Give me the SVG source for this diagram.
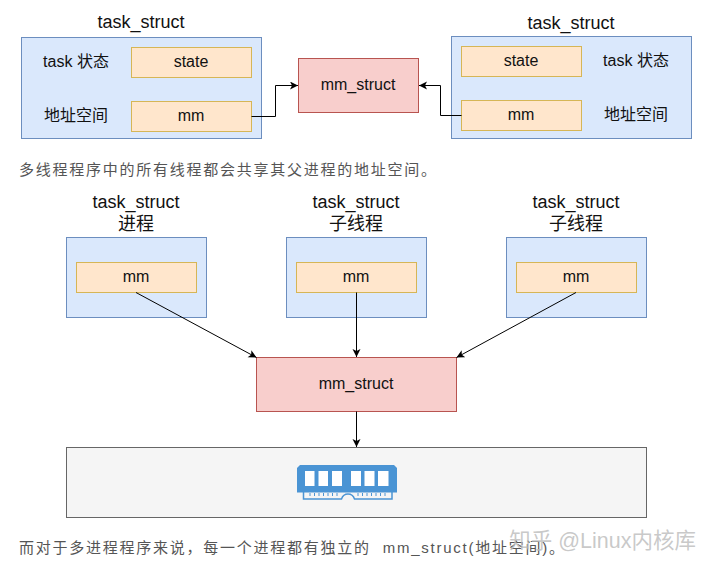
<svg xmlns="http://www.w3.org/2000/svg" width="714" height="570" viewBox="0 0 714 570">
<style>
text{font-family:"Liberation Sans","Noto Sans CJK SC",sans-serif;fill:#111;text-anchor:middle}
.t{font-size:18px}.l{font-size:16px}
.cap{font-size:15px;fill:#555;text-anchor:start;letter-spacing:1.75px}
.blue{fill:#dae8fc;stroke:#6c8ebf}.or{fill:#ffe6cc;stroke:#d6b656}.red{fill:#f8cecc;stroke:#b85450}
.gray{fill:#f5f5f5;stroke:#666}
.c{fill:none;stroke:#000;stroke-width:1}
</style>
<defs><marker id="a" markerUnits="userSpaceOnUse" markerWidth="10" markerHeight="10" refX="8" refY="4" orient="auto"><path d="M0 0L8 4L0 8L2 4Z" fill="#000"/></marker></defs>
<rect width="714" height="570" fill="#fff"/>
<g id="task-left">
<text class="t" x="141" y="28">task_struct</text>
<rect class="blue" x="21.500" y="37.500" width="240" height="101"/>
<text class="l" x="76" y="67">task 状态</text>
<text class="l" x="76" y="121">地址空间</text>
<rect class="or" x="131.500" y="47.500" width="120" height="30"/><text class="l" x="191" y="67">state</text>
<rect class="or" x="131.500" y="101.500" width="120" height="30"/><text class="l" x="191" y="121">mm</text>
</g>
<g id="task-right">
<text class="t" x="571" y="29">task_struct</text>
<rect class="blue" x="451.500" y="36.500" width="240" height="102"/>
<rect class="or" x="461.500" y="46.500" width="120" height="30"/><text class="l" x="521" y="66">state</text>
<rect class="or" x="461.500" y="100.500" width="120" height="30"/><text class="l" x="521" y="120">mm</text>
<text class="l" x="636" y="66">task 状态</text>
<text class="l" x="636" y="120">地址空间</text>
</g>
<g id="mm-top"><rect class="red" x="298.500" y="58.500" width="120" height="54"/><text class="l" x="358" y="90">mm_struct</text></g>
<text class="cap" x="19" y="175">多线程程序中的所有线程都会共享其父进程的地址空间。</text>
<g id="proc"><text class="t" x="136" y="208">task_struct</text><text class="t" x="136" y="230">进程</text>
<rect class="blue" x="66.500" y="237.500" width="140" height="80"/><rect class="or" x="76.500" y="262.500" width="120" height="30"/><text class="l" x="136" y="282">mm</text></g>
<g id="thread1"><text class="t" x="356" y="208">task_struct</text><text class="t" x="356" y="230">子线程</text>
<rect class="blue" x="286.500" y="237.500" width="140" height="80"/><rect class="or" x="296.500" y="262.500" width="120" height="30"/><text class="l" x="356" y="282">mm</text></g>
<g id="thread2"><text class="t" x="576" y="208">task_struct</text><text class="t" x="576" y="230">子线程</text>
<rect class="blue" x="506.500" y="237.500" width="140" height="80"/><rect class="or" x="516.500" y="262.500" width="120" height="30"/><text class="l" x="576" y="282">mm</text></g>
<g id="mm-main"><rect class="red" x="256.500" y="357.500" width="200" height="54"/><text class="l" x="356" y="389">mm_struct</text></g>
<g id="memory"><rect class="gray" x="66.500" y="447.500" width="580" height="70"/>
<path fill="#4a94d4" d="M297 468l3-3h94l3 3v24.500H297Z"/>
<path fill="none" stroke="#4a94d4" stroke-width="1.500" d="M303.500 492v7h38c1-3 3-5 6.500-5s5.500 2 6.500 5h37.500v-7"/>
<g fill="#fff"><rect x="305" y="471" width="9.500" height="15"/><rect x="318.500" y="471" width="9.500" height="15"/><rect x="332" y="471" width="10" height="15"/><rect x="351" y="471" width="10" height="15"/><rect x="364.500" y="471" width="10" height="15"/><rect x="378" y="471" width="10.500" height="15"/></g>
<path stroke="#4a94d4" d="M310 493v3M314.500 493v3M319 493v3M323.500 493v3M328 493v3M332.500 493v3M337 493v3M358 493v3M362.500 493v3M367 493v3M371.500 493v3M376 493v3M380.500 493v3M385 493v3" fill="none"/>
</g>
<text class="cap" x="19" y="553">而对于多进程程序来说，每一个进程都有独立的 <tspan dx="6">mm_struct(地址空间)。</tspan></text>
<text x="696" y="548" font-size="21.500" style="text-anchor:end;fill:#bbb;fill-opacity:.8">知乎 @Linux内核库</text>
<g id="connectors">
<path class="c" marker-end="url(#a)" d="M251.500 116.500H275.500V85.500H298"/>
<path class="c" marker-end="url(#a)" d="M461.500 115.500H440.500V85.500H419"/>
<path class="c" marker-end="url(#a)" d="M136 292.500L256.500 357.500"/>
<path class="c" marker-end="url(#a)" d="M356.500 292.500V357"/>
<path class="c" marker-end="url(#a)" d="M576 292.500L456.500 357.500"/>
<path class="c" marker-end="url(#a)" d="M356.500 411.500V447"/>
</g>
</svg>
